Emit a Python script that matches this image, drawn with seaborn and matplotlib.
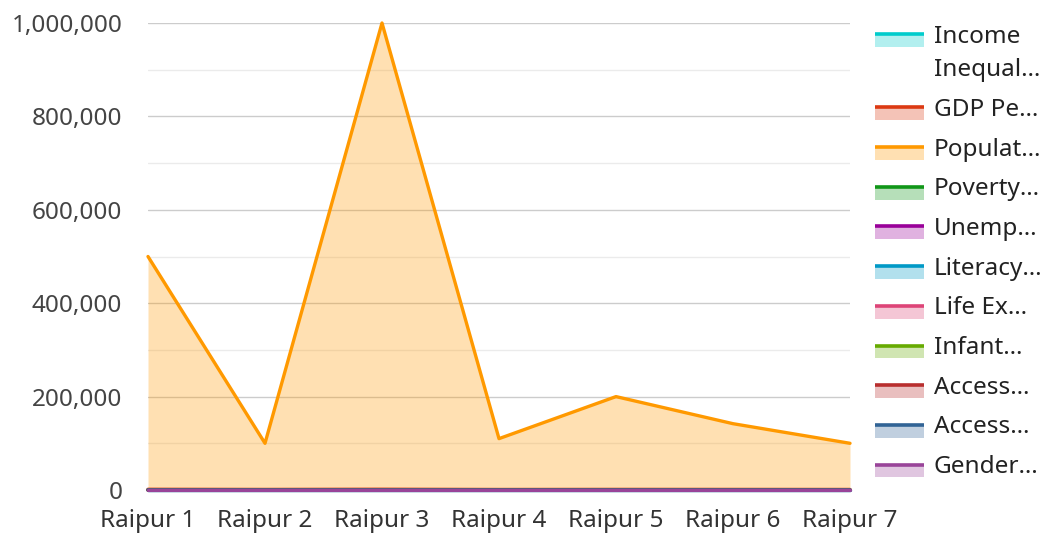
import pandas as pd
import matplotlib
matplotlib.use("Agg")
import matplotlib.pyplot as plt
import seaborn as sns
from matplotlib.ticker import MultipleLocator, FuncFormatter
from matplotlib.patches import Rectangle
from matplotlib.lines import Line2D
from matplotlib.legend_handler import HandlerBase

districts = ["Raipur 1", "Raipur 2", "Raipur 3", "Raipur 4", "Raipur 5", "Raipur 6", "Raipur 7"]

income_inequality = [0.35, 0.38, 0.42, 0.33, 0.36, 0.40, 0.37]
gdp_per_capita = [1500, 1200, 1600, 1100, 1300, 1250, 1150]
population = [500000, 100000, 1000000, 110000, 200000, 142000, 100000]
poverty_rate = [20, 25, 18, 30, 22, 24, 26]
unemployment_rate = [6, 8, 5, 9, 7, 7, 8]
literacy_rate = [75, 70, 82, 68, 72, 71, 69]
life_expectancy = [68, 66, 70, 65, 67, 66, 65]
infant_mortality = [40, 45, 35, 48, 42, 44, 46]
access_healthcare = [60, 55, 70, 50, 58, 56, 54]
access_education = [65, 60, 75, 55, 62, 61, 59]
gender_equality = [0.6, 0.55, 0.65, 0.5, 0.58, 0.57, 0.56]

series_labels = ["Income\nInequal…", "GDP Pe…", "Populat…", "Poverty…", "Unemp…",
                 "Literacy…", "Life Ex…", "Infant…", "Access…", "Access…", "Gender…"]
series_values = [income_inequality, gdp_per_capita, population, poverty_rate, unemployment_rate,
                 literacy_rate, life_expectancy, infant_mortality, access_healthcare,
                 access_education, gender_equality]
series_colors = ["#00CCCC", "#DC3912", "#FF9900", "#109618", "#990099", "#0099C6",
                 "#DD4477", "#66AA00", "#B82E2E", "#316395", "#994499"]

FONT_SIZE = 17.5
LINE_SPACING = 1.51


class AreaHandler(HandlerBase):
    """Legend key: pale filled box with a solid line along its top."""
    def create_artists(self, legend, orig_handle, xdescent, ydescent, width, height, fontsize, trans):
        color = orig_handle.get_color()
        shift = getattr(orig_handle, "shift", 0)
        top = -ydescent + height * 0.5 + shift
        rect = Rectangle((-xdescent, top - height * 0.75), width, height * 0.75,
                         facecolor=color, alpha=0.3, edgecolor="none", transform=trans)
        line = Line2D([-xdescent, -xdescent + width], [top, top], color=color, lw=2.6,
                      solid_capstyle="butt", transform=trans)
        return [rect, line]


def main():
    sns.set_theme(style="white")
    plt.rcParams["font.family"] = ["Noto Sans", "DejaVu Sans"]

    fig = plt.figure(figsize=(10.45, 5.34), dpi=100)
    ax = fig.add_axes([148 / 1045, 1 - 490 / 534, 702 / 1045, 467 / 534])

    rows = []
    for label, vals in zip(series_labels, series_values):
        for d, v in zip(districts, vals):
            rows.append({"district": d, "value": v, "series": label})
    df = pd.DataFrame(rows)

    xs = list(range(len(districts)))
    for label, vals, color in zip(series_labels, series_values, series_colors):
        ax.fill_between(xs, vals, 0, color=color, alpha=0.3, linewidth=0, zorder=2)
        sns.lineplot(data=df[df["series"] == label], x="district", y="value", color=color,
                     lw=2.4, sort=False, ax=ax, zorder=3, clip_on=False)

    ax.set_xlim(0, 6)
    ax.set_ylim(0, 1000000)
    ax.set_xlabel("")
    ax.set_ylabel("")
    ax.yaxis.set_major_locator(MultipleLocator(200000))
    ax.yaxis.set_minor_locator(MultipleLocator(100000))
    ax.yaxis.set_major_formatter(FuncFormatter(lambda v, p: f"{int(v):,}"))
    ax.grid(axis="y", which="major", color="#cccccc", lw=1, zorder=0)
    ax.grid(axis="y", which="minor", color="#ebebeb", lw=1, zorder=0)
    ax.tick_params(axis="y", which="major", length=0, labelsize=FONT_SIZE,
                   labelcolor="#444444", pad=18.5)
    ax.tick_params(axis="y", which="minor", length=0)
    ax.tick_params(axis="x", length=0, labelsize=FONT_SIZE, labelcolor="#333333", pad=14)
    for s in ax.spines.values():
        s.set_visible(False)

    handles = []
    for c, label in zip(series_colors, series_labels):
        h = Line2D([], [], color=c)
        # multi-line label: key sits next to the first line
        h.shift = label.count("\n") * 14.5
        handles.append(h)
    leg = fig.legend(handles, series_labels, handler_map={Line2D: AreaHandler()},
                     loc="upper left", bbox_to_anchor=(875 / 1045, 1 - 25 / 534),
                     frameon=False, fontsize=FONT_SIZE, handlelength=2.0, handletextpad=0.41,
                     labelspacing=0.646, borderaxespad=0, borderpad=0, labelcolor="#222222")
    for t in leg.get_texts():
        t.set_linespacing(LINE_SPACING)

    fig.savefig("out.png", dpi=100)
    plt.close(fig)


if __name__ == "__main__":
    main()
